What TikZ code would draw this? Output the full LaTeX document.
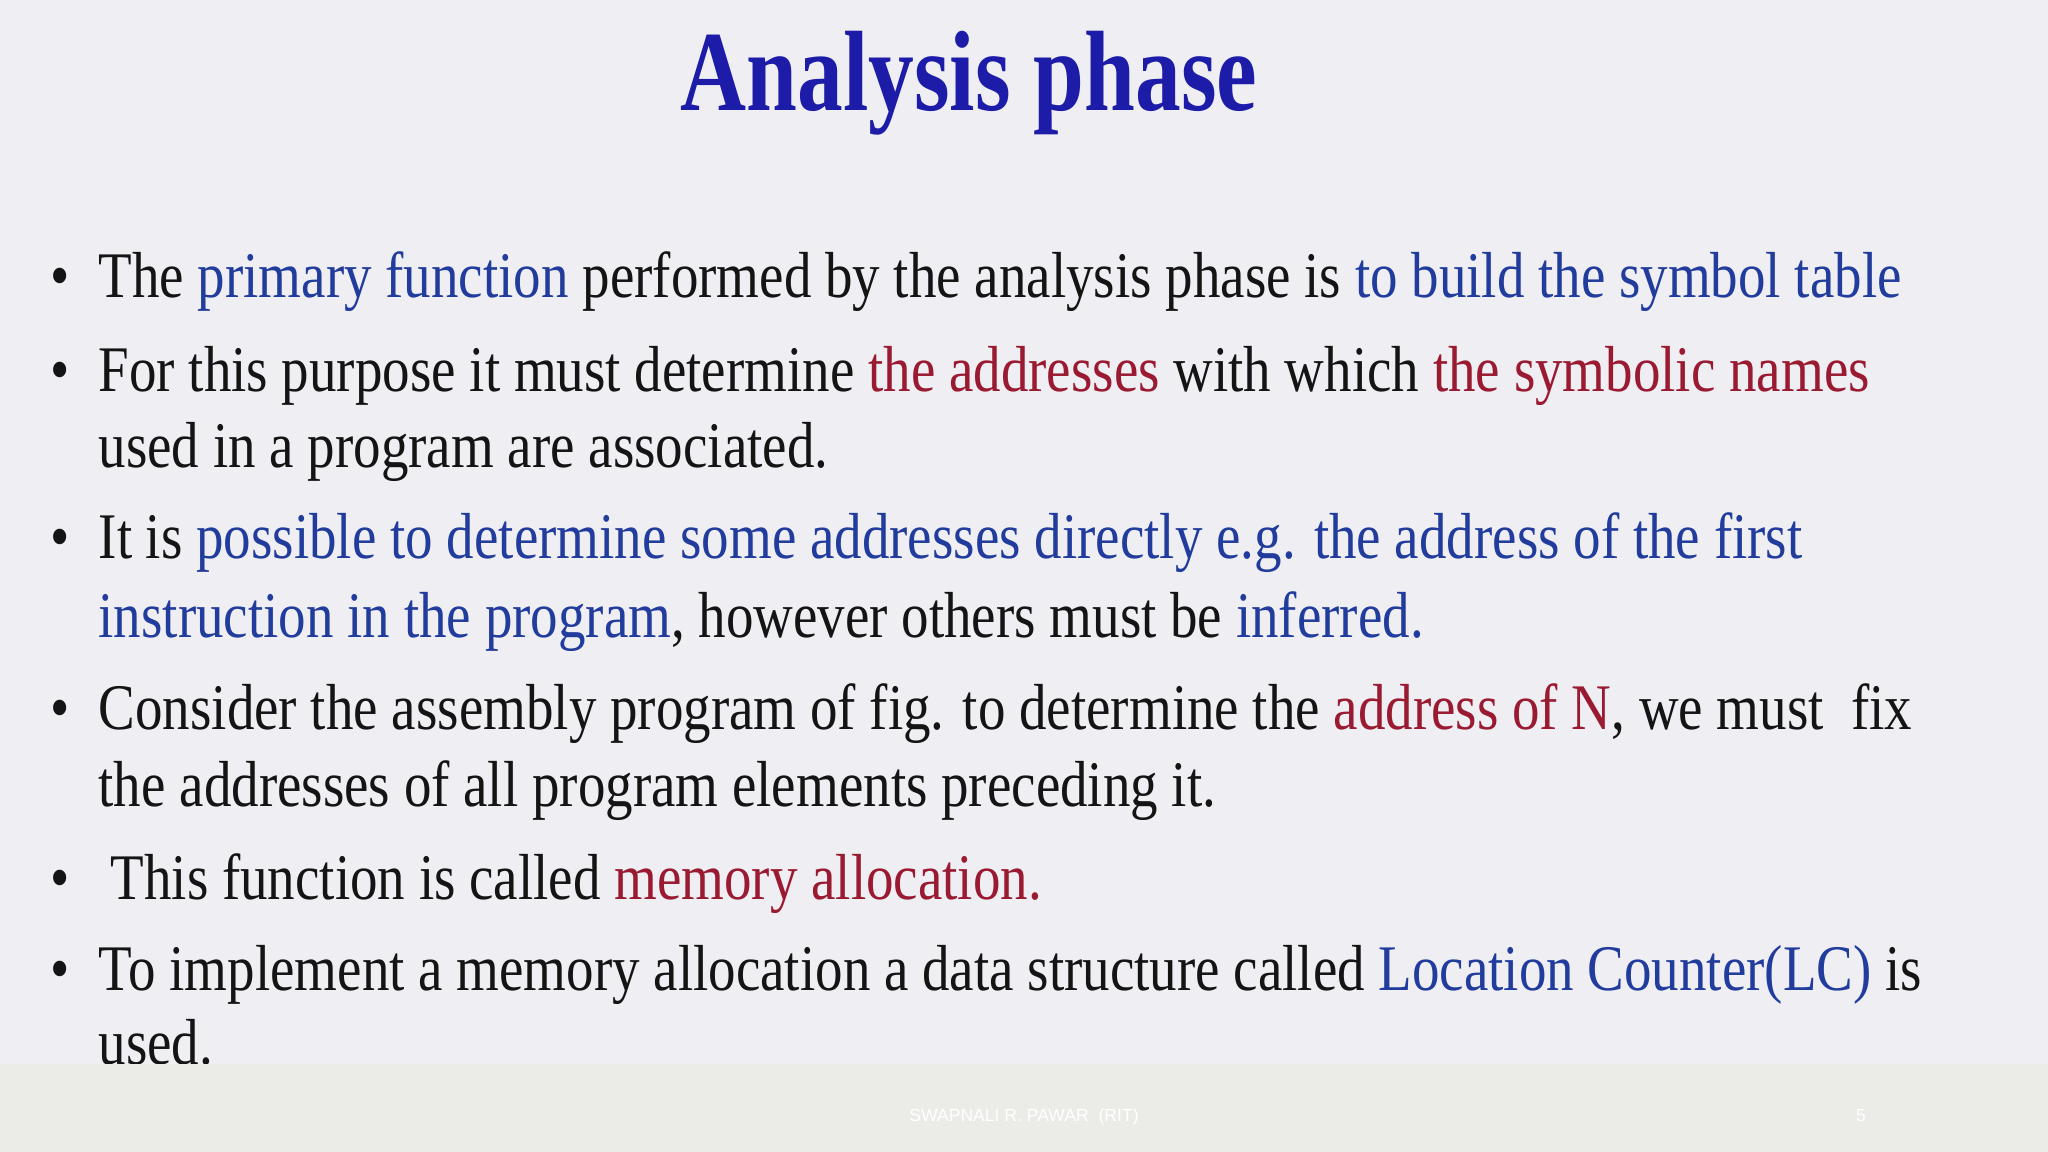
\documentclass[tikz,border=0pt]{standalone}
\usepackage{fontspec}
\setmainfont{Liberation Serif}[FakeStretch=0.845]
\newfontfamily\titlefont{Liberation Serif}[FakeStretch=0.8]
\newfontfamily\footfont{Liberation Sans}
\definecolor{bg}{HTML}{EEEEF3}
\definecolor{foot}{HTML}{EBECE7}
\definecolor{tblue}{HTML}{1C1CA8}
\definecolor{kblue}{HTML}{213C9C}
\definecolor{kred}{HTML}{9A1A32}
\definecolor{ktext}{HTML}{141414}
\newcommand{\B}[1]{\textcolor{kblue}{#1}}
\newcommand{\R}[1]{\textcolor{kred}{#1}}
\begin{document}
\begin{tikzpicture}[x=0.01cm,y=-0.01cm,
  ln/.style={anchor=base west,inner sep=0pt,text=ktext,font=\fontsize{18.5}{22}\selectfont},
  bul/.style={anchor=base west,inner sep=0pt,text=ktext,font=\fontsize{18.5}{22}\selectfont}]
\useasboundingbox (0,0) rectangle (2048,1152);
\fill[bg] (0,0) rectangle (2048,1152);
\node[anchor=base,inner sep=0pt,text=tblue,font=\titlefont\bfseries\fontsize{32.5}{40}\selectfont] (title) at (969,111) {Analysis phase};
\foreach \y/\n in {298/b1,392/b2,559/b3,729/b4,899/b5,990/b6}{\node[bul] (\n) at (50,\y) {•};}
\node[ln] (l1) at (98,298) {The \B{primary function} performed by the analysis phase is \B{to build the symbol table}};
\node[ln] (l2) at (98,392) {For this purpose it must determine \R{the addresses} with which \R{the symbolic names}};
\node[ln] (l3) at (98,468) {used in a program are associated.};
\node[ln] (l4) at (98,559) {It is \B{possible to determine some addresses directly e.g. the address of the first}};
\node[ln] (l5) at (98,637) {\B{instruction in the program}, however others must be \B{inferred.}};
\node[ln] (l6) at (98,729) {Consider the assembly program of fig. to determine the \R{address of N}, we must\ \ fix};
\node[ln] (l7) at (98,806) {the addresses of all program elements preceding it.};
\node[ln] (l8) at (110,899) {This function is called \R{memory allocation.}};
\node[ln] (l9) at (98,990) {To implement a memory allocation a data structure called \B{Location Counter(LC)} is};
\node[ln] (l10) at (98,1064) {used.};
\fill[foot] (0,1064) rectangle (2048,1152);
\node[anchor=base,inner sep=0pt,text=white,font=\footfont\fontsize{5}{6}\selectfont] (ft) at (1024,1121) {SWAPNALI R. PAWAR ~(RIT)};
\node[anchor=base,inner sep=0pt,text=white,font=\footfont\fontsize{5}{6}\selectfont] (pg) at (1861,1121) {5};
\end{tikzpicture}
\end{document}
